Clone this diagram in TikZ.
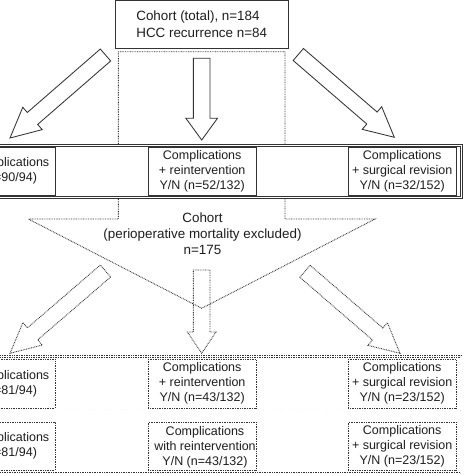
\documentclass[tikz,border=0pt]{standalone}
\usepackage{fontspec}
\setmainfont{Liberation Sans}
\usetikzlibrary{calc}
\definecolor{ln}{HTML}{333333}
\definecolor{tx}{HTML}{1E1E1E}
\newcommand\blockarrow[6]{% style, tail, tip, shaft half width, head half width, head length
  \coordinate (ab) at ($(#3)!#6!(#2)$);
  \draw[#1] ($(#2)!#4!90:(#3)$) -- ($(ab)!#4!90:(#3)$) -- ($(ab)!#5!90:(#3)$) -- (#3)
    -- ($(ab)!#5!-90:(#3)$) -- ($(ab)!#4!-90:(#3)$) -- ($(#2)!#4!-90:(#3)$) -- cycle;
}
\tikzset{
  boxfont/.style={font=\fontsize{12.5}{15}\selectfont},
  bigfont/.style={font=\fontsize{13.4}{16.2}\selectfont},
  solidbox/.style={draw=ln, line width=0.85pt, fill=white, inner sep=0pt, text=tx, align=center, boxfont},
  dotbox/.style={draw=ln, line width=0.9pt, dash pattern=on 0.8pt off 0.9pt, fill=white, inner sep=0pt, text=tx, align=center, boxfont},
  bigsolid/.style={draw=ln, line width=0.65pt, double=white, double distance=1.5pt, fill=white, inner sep=0pt},
  bigdot/.style={draw=ln, line width=0.75pt, double=white, double distance=1.4pt, dash pattern=on 0.8pt off 0.9pt, fill=white, inner sep=0pt},
  dotline/.style={draw=ln, line width=0.9pt, dash pattern=on 0.8pt off 0.9pt},
  solidarrow/.style={draw=ln, line width=0.85pt, line join=miter},
  dotarrow/.style={draw=ln, line width=0.9pt, dash pattern=on 0.8pt off 0.9pt},
}
\begin{document}
\begin{tikzpicture}[x=1pt,y=-1pt]
\useasboundingbox (0,0) rectangle (474,474);
\clip (0,0) rectangle (474,474);
\fill[white] (0,0) rectangle (474,474);

% dotted funnel
\coordinate (f1) at (118.3,51.7);
\coordinate (f2) at (285,51.7);
\coordinate (f3) at (285,219);
\coordinate (f4) at (375,219);
\coordinate (f5) at (201.7,308.3);
\coordinate (f6) at (28.3,219);
\coordinate (f7) at (118.3,219);
\draw[dotline] (f1) -- (f2) -- (f3) -- (f4) -- (f5) -- (f6) -- (f7) -- cycle;

% top box
\node[solidbox, bigfont, align=left, minimum width=173.3pt, minimum height=48.3pt, line width=0.95pt] (top) at (201.7,24.2)
  {Cohort (total), n=184\\HCC recurrence n=84};

% row 1
\node[bigsolid, minimum width=471.7pt, minimum height=52.2pt] (row1) at (225.85,171.4) {};
\node[solidbox, minimum width=90pt, minimum height=48pt] (r1a) at (10,171) {Complications\\(n=90/94)};
\node[solidbox, minimum width=107.7pt, minimum height=48pt] (r1b) at (202.2,171) {Complications\\+ reintervention\\Y/N (n=52/132)};
\node[solidbox, minimum width=107.7pt, minimum height=48pt] (r1c) at (402.2,171) {Complications\\+ surgical revision\\Y/N (n=32/152)};

% cohort label
\node[bigfont, text=tx, align=center, inner sep=0pt] (coh) at (202.5,233.5)
  {Cohort\\(perioperative mortality excluded)\\n=175};

% row 2
\node[bigdot, minimum width=471pt, minimum height=53.3pt] (row2) at (225.5,383.35) {};
\node[dotbox, minimum width=90pt, minimum height=48.5pt] (r2a) at (10,383.7) {Complications\\(n=81/94)};
\node[dotbox, minimum width=107.7pt, minimum height=48.5pt] (r2b) at (202.2,383.7) {Complications\\+ reintervention\\Y/N (n=43/132)};
\node[dotbox, minimum width=107.7pt, minimum height=48.5pt] (r2c) at (402.2,383.7) {Complications\\+ surgical revision\\Y/N (n=23/152)};

% row 3
\node[bigdot, minimum width=471pt, minimum height=53.5pt] (row3) at (225.5,446.75) {};
\node[dotbox, minimum width=90pt, minimum height=47.7pt] (r3a) at (10,446.2) {Complications\\(n=81/94)};
\node[dotbox, minimum width=107.7pt, minimum height=47.7pt] (r3b) at (202.2,446.2) {};
\node[text=tx, boxfont, align=center, inner sep=0pt] (r3bt) at (205,447) {Complications\\with reintervention\\Y/N (n=43/132)};
\node[dotbox, minimum width=107.7pt, minimum height=47.7pt] (r3c) at (402.2,446.2) {Complications\\+ surgical revision\\Y/N (n=23/152)};

% arrows, first level
\coordinate (a1t) at (105.5,55);   \coordinate (a1p) at (10,138);
\coordinate (a2t) at (201.7,58.3); \coordinate (a2p) at (201.7,140);
\coordinate (a3t) at (298.3,54.5); \coordinate (a3p) at (394.3,137.3);
\blockarrow{solidarrow}{a1t}{a1p}{7.9pt}{14.8pt}{29.8pt}
\blockarrow{solidarrow}{a2t}{a2p}{8.3pt}{15.8pt}{21.7pt}
\blockarrow{solidarrow}{a3t}{a3p}{7.9pt}{14.9pt}{29.5pt}

% arrows, second level
\coordinate (b1t) at (105.5,271);  \coordinate (b1p) at (10,353.3);
\coordinate (b2t) at (201.7,270);  \coordinate (b2p) at (201.7,353.3);
\coordinate (b3t) at (305,271.3);  \coordinate (b3p) at (400,353.3);
\blockarrow{dotarrow}{b1t}{b1p}{7.9pt}{14.8pt}{29.8pt}
\blockarrow{dotarrow}{b2t}{b2p}{8.3pt}{14.3pt}{21.3pt}
\blockarrow{dotarrow}{b3t}{b3p}{7.9pt}{14.9pt}{29.5pt}
\end{tikzpicture}
\end{document}
